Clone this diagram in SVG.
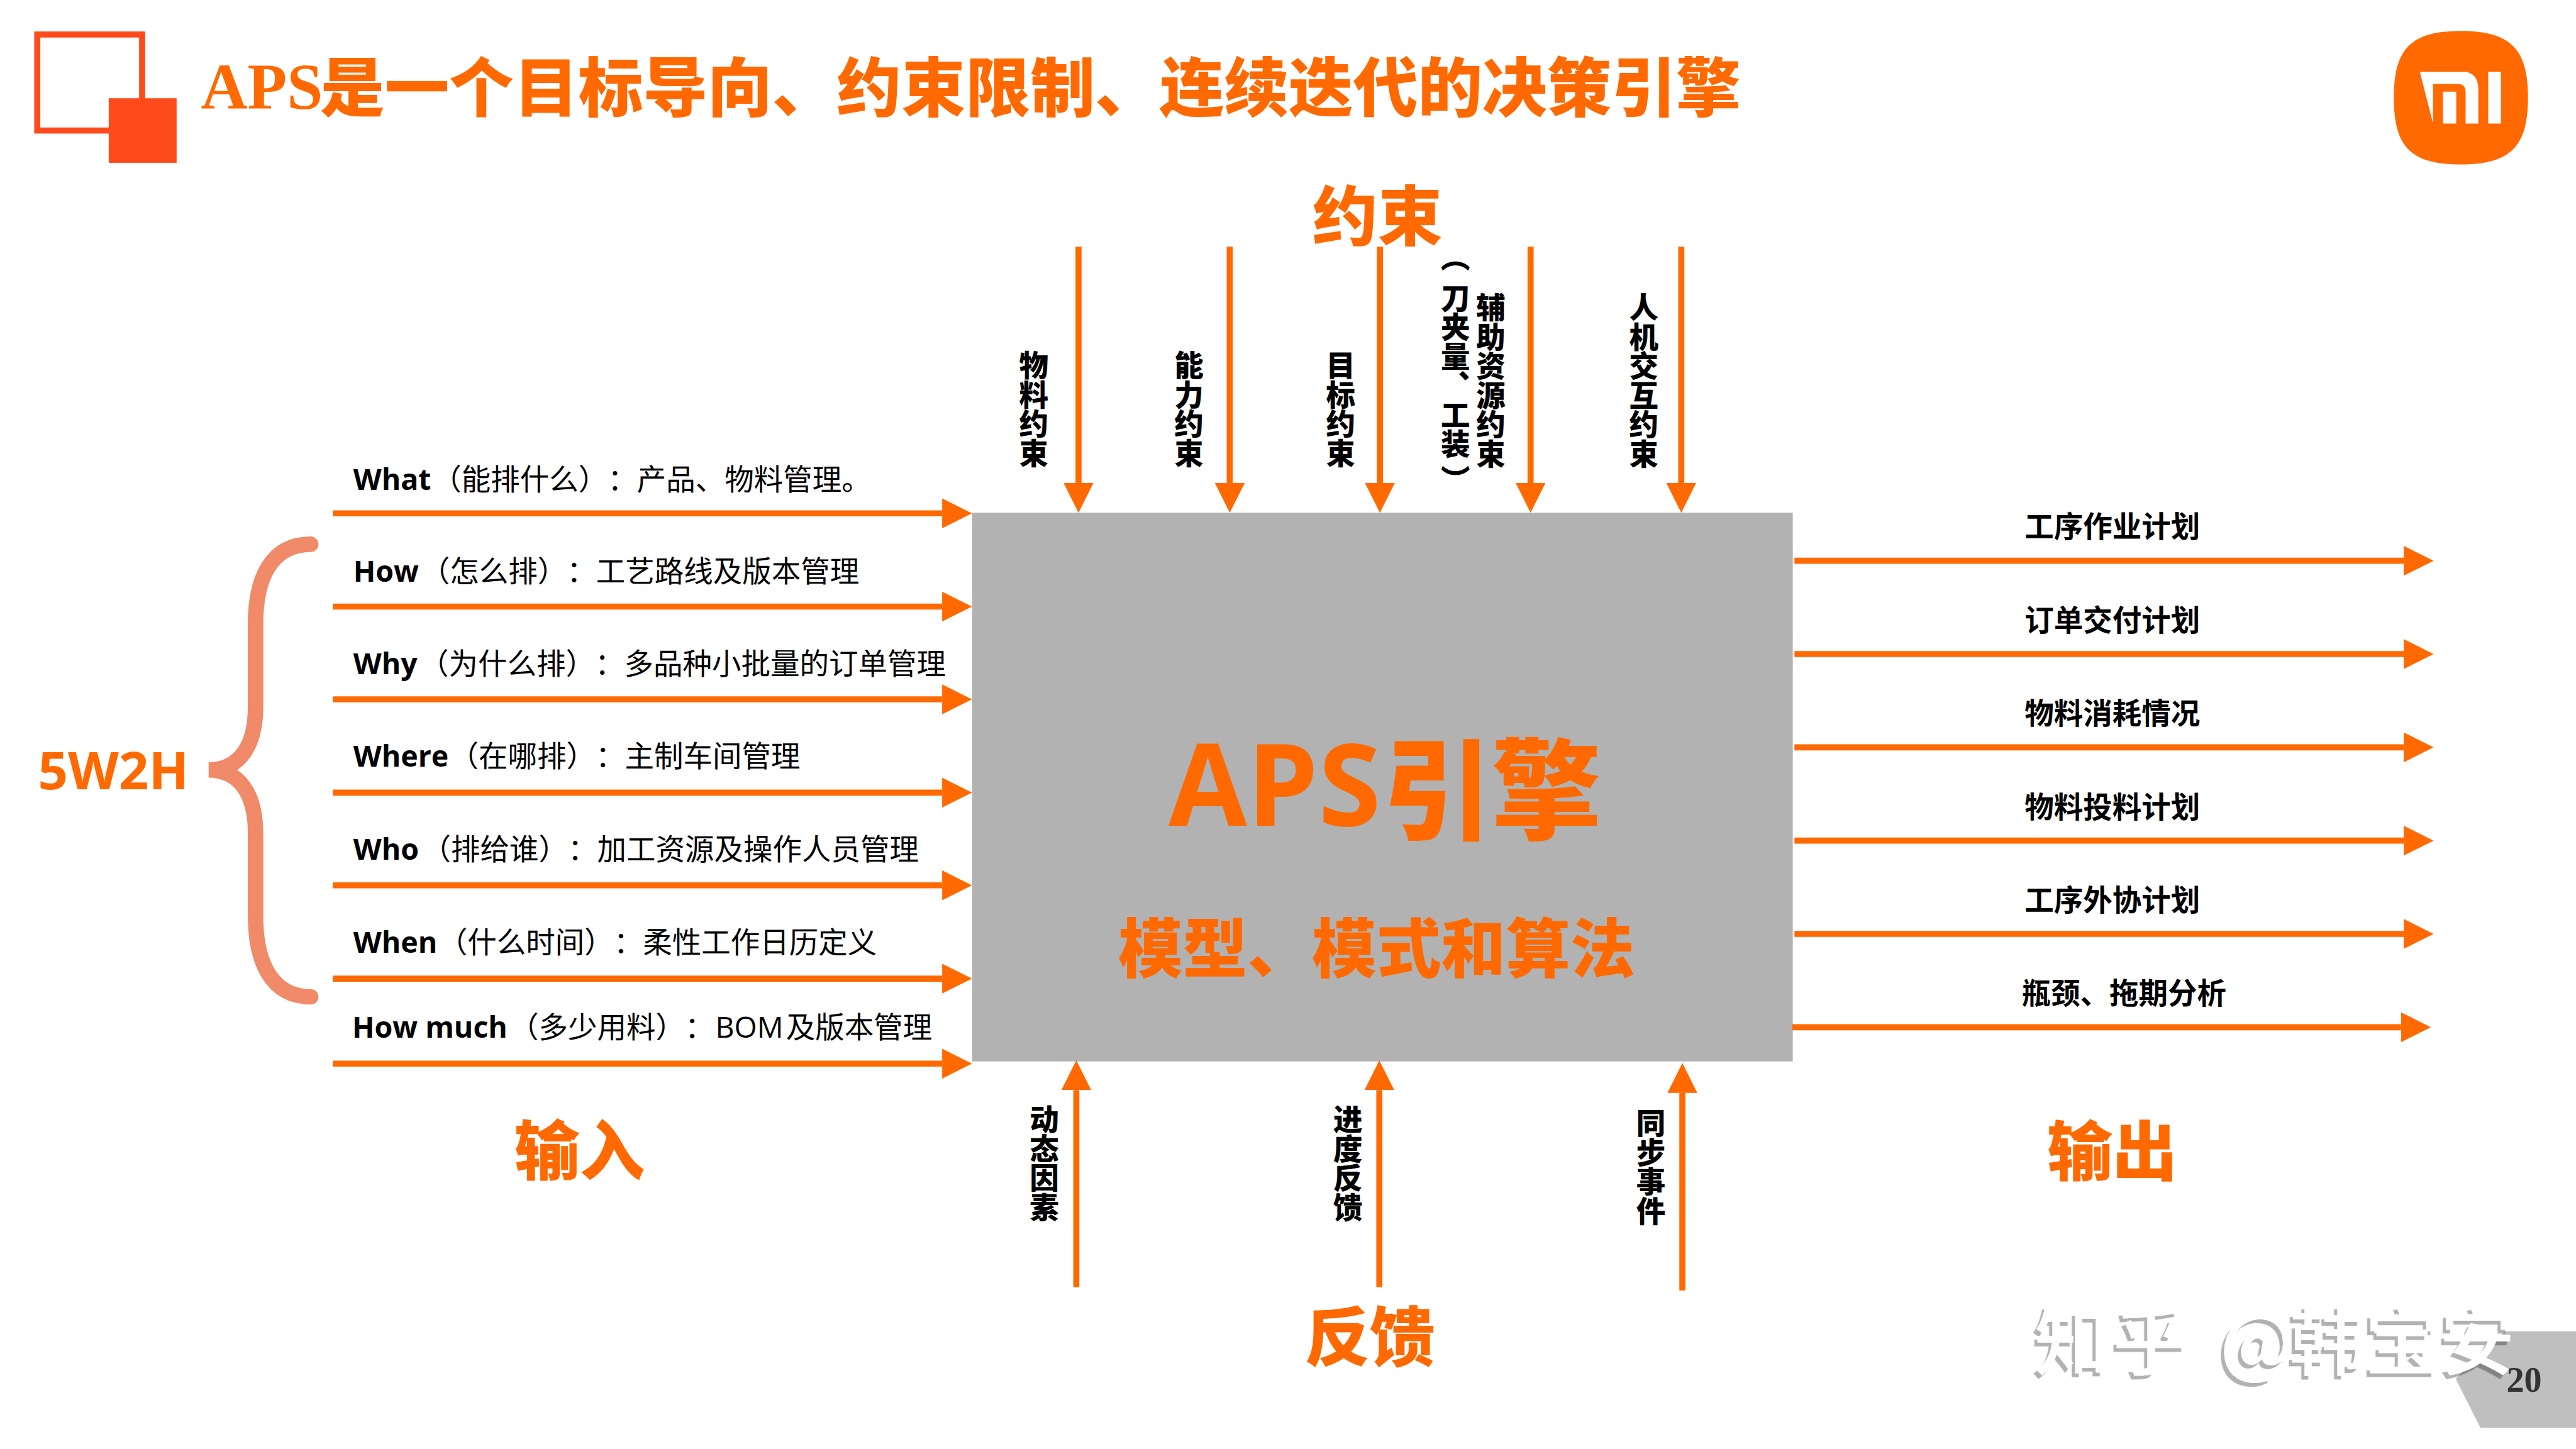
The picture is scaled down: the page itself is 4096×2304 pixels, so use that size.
<svg xmlns="http://www.w3.org/2000/svg" width="4096" height="2304" viewBox="0 0 4096 2304">
<style>
text{font-family:"Noto Sans CJK SC",sans-serif;text-spacing-trim:space-all}
.o{fill:#FF6900}
.h{fill:#FF6900;font-weight:900;font-size:118px}
.l{font-size:53px;fill:#000;font-weight:400}
.lb{font-family:"Open Sans","Noto Sans CJK SC",sans-serif;font-weight:700}
.lr{font-family:"Open Sans","Noto Sans CJK SC",sans-serif;font-weight:400}
.r{font-size:53px;fill:#000;font-weight:700;text-anchor:middle}
.v{font-size:53px;fill:#000;font-weight:900;writing-mode:vertical-rl;text-orientation:mixed}
.c{fill:none;stroke:#FF6900;stroke-width:11;marker-end:url(#ah)}
</style>
<defs>
<marker id="ah" markerUnits="userSpaceOnUse" markerWidth="54" markerHeight="54" refX="0" refY="27" orient="auto" viewBox="0 0 54 54"><path d="M0 0L54 27L0 54Z" fill="#FF6900"/></marker>
<filter id="wm" x="-5%" y="-20%" width="110%" height="140%"><feDropShadow dx="-6" dy="7" stdDeviation="0" flood-color="#000" flood-opacity=".3"/></filter>
</defs>
<rect width="4096" height="2304" fill="#fff"/>
<g transform="scale(0.87765)">
<g id="title">
<rect x="67.500" y="62.500" width="190" height="174" fill="none" stroke="#FF4A1C" stroke-width="11"/>
<rect x="197" y="178" width="123" height="117" fill="#FF4A1C"/>
<text y="197" class="o" font-size="117" font-weight="900"><tspan x="364" font-weight="700" style="font-family:'Liberation Serif',serif">APS</tspan><tspan x="580" y="202">是一个目标导向、约束限制、连续迭代的决策引擎</tspan></text>
</g>
<g id="logo">
<path d="M4458 56C4550 56 4580 90 4580 177C4580 264 4550 298 4458 298C4366 298 4337 264 4337 177C4337 90 4366 56 4458 56Z" fill="#FF6900"/>
<path d="M4384 130H4462C4480 130 4490 142 4490 160V224H4467V166C4467 157 4462 152 4453 152H4408V224ZM4426 166H4450V224H4426ZM4508 130H4531V224H4508Z" fill="#fff"/>
</g>
<g id="engine">
<rect x="1761" y="929" width="1487" height="994" fill="#B2B2B2"/>
<text y="1496" class="o" font-size="206" font-weight="700"><tspan x="2117" style="font-family:'Open Sans',sans-serif">APS</tspan><tspan x="2505" y="1505" font-size="198" font-weight="900">引擎</tspan></text>
<text x="2026" y="1761" class="o" font-size="117" font-weight="900">模型、模式和算法</text>
</g>
<g id="brace-5w2h">
<path d="M563 986C490 986 463 1050 463 1130L463 1280C463 1350 435 1395 378 1395C435 1395 463 1440 463 1510L463 1660C463 1740 490 1806 563 1806" fill="none" stroke="#F08A68" stroke-width="28" stroke-linecap="round"/>
<text x="69" y="1430" class="o" font-size="95" font-weight="700" style="font-family:'Open Sans',sans-serif">5W2H</text>
</g>
<g id="inputs">
<text y="888" class="l"><tspan x="640" class="lb">What</tspan><tspan x="783">（能排什么）：产品、物料管理。</tspan></text>
<text y="1054" class="l"><tspan x="640" class="lb">How</tspan><tspan x="762">（怎么排）：工艺路线及版本管理</tspan></text>
<text y="1221" class="l"><tspan x="640" class="lb">Why</tspan><tspan x="760">（为什么排）：多品种小批量的订单管理</tspan></text>
<text y="1389" class="l"><tspan x="640" class="lb">Where</tspan><tspan x="814">（在哪排）：主制车间管理</tspan></text>
<text y="1557" class="l"><tspan x="640" class="lb">Who</tspan><tspan x="764">（排给谁）：加工资源及操作人员管理</tspan></text>
<text y="1726" class="l"><tspan x="640" class="lb">When</tspan><tspan x="794">（什么时间）：柔性工作日历定义</tspan></text>
<text y="1880" class="l"><tspan x="638" class="lb">How much</tspan><tspan x="923">（多少用料）：</tspan><tspan x="1296" class="lr">BOM</tspan><tspan x="1424">及版本管理</tspan></text>
<text x="932" y="2128" class="h">输入</text>
</g>
<g id="outputs">
<text x="3827" y="973" class="r">工序作业计划</text>
<text x="3827" y="1143" class="r">订单交付计划</text>
<text x="3827" y="1312" class="r">物料消耗情况</text>
<text x="3827" y="1481" class="r">物料投料计划</text>
<text x="3827" y="1650" class="r">工序外协计划</text>
<text x="3848" y="1819" class="r">瓶颈、拖期分析</text>
<text x="3709" y="2130" class="h">输出</text>
</g>
<g id="constraints">
<text x="2378" y="435" class="h">约束</text>
<text x="1873" y="635" class="v">物料约束</text>
<text x="2154" y="635" class="v">能力约束</text>
<text x="2429" y="635" class="v">目标约束</text>
<text x="2701" y="530" class="v">辅助资源约束</text>
<text x="2637" class="v"><tspan y="439">（</tspan><tspan y="512">刀夹量、工装</tspan><tspan y="842">）</tspan></text>
<text x="2978" y="530" class="v">人机交互约束</text>
</g>
<g id="feedback">
<text x="2364" y="2466" class="h">反馈</text>
<text x="1892" y="2001" class="v">动态因素</text>
<text x="2442" y="2001" class="v">进度反馈</text>
<text x="2991" y="2008" class="v">同步事件</text>
</g>
<g id="connectors">
<path class="c" d="M603 930H1707"/>
<path class="c" d="M603 1099H1707"/>
<path class="c" d="M603 1267H1707"/>
<path class="c" d="M603 1436H1707"/>
<path class="c" d="M603 1604H1707"/>
<path class="c" d="M603 1773H1707"/>
<path class="c" d="M603 1927H1707"/>
<path class="c" d="M3251 1016H4355"/>
<path class="c" d="M3251 1185H4355"/>
<path class="c" d="M3251 1354H4355"/>
<path class="c" d="M3251 1523H4355"/>
<path class="c" d="M3251 1692H4355"/>
<path class="c" d="M3247 1861H4350"/>
<path class="c" d="M1954 447V875"/>
<path class="c" d="M2228 447V875"/>
<path class="c" d="M2500 447V875"/>
<path class="c" d="M2773 447V875"/>
<path class="c" d="M3046 447V875"/>
<path class="c" d="M1950 2332V1975"/>
<path class="c" d="M2499 2332V1975"/>
<path class="c" d="M3048 2338V1980"/>
</g>
<g id="page">
<path d="M4538 2412H4667V2587H4494L4449 2498Z" fill="#BFBFBF"/>
<text x="4541" y="2522" font-size="64" font-weight="700" fill="#333" style="font-family:'Liberation Serif',serif">20</text>
</g>
<g id="watermark" font-size="136" font-weight="500">
<text y="2480" fill="#fff" filter="url(#wm)"><tspan x="3686" letter-spacing="6">知乎 </tspan><tspan x="4022">@</tspan><tspan x="4148">韩宝安</tspan></text>
</g>
</g>
</svg>
